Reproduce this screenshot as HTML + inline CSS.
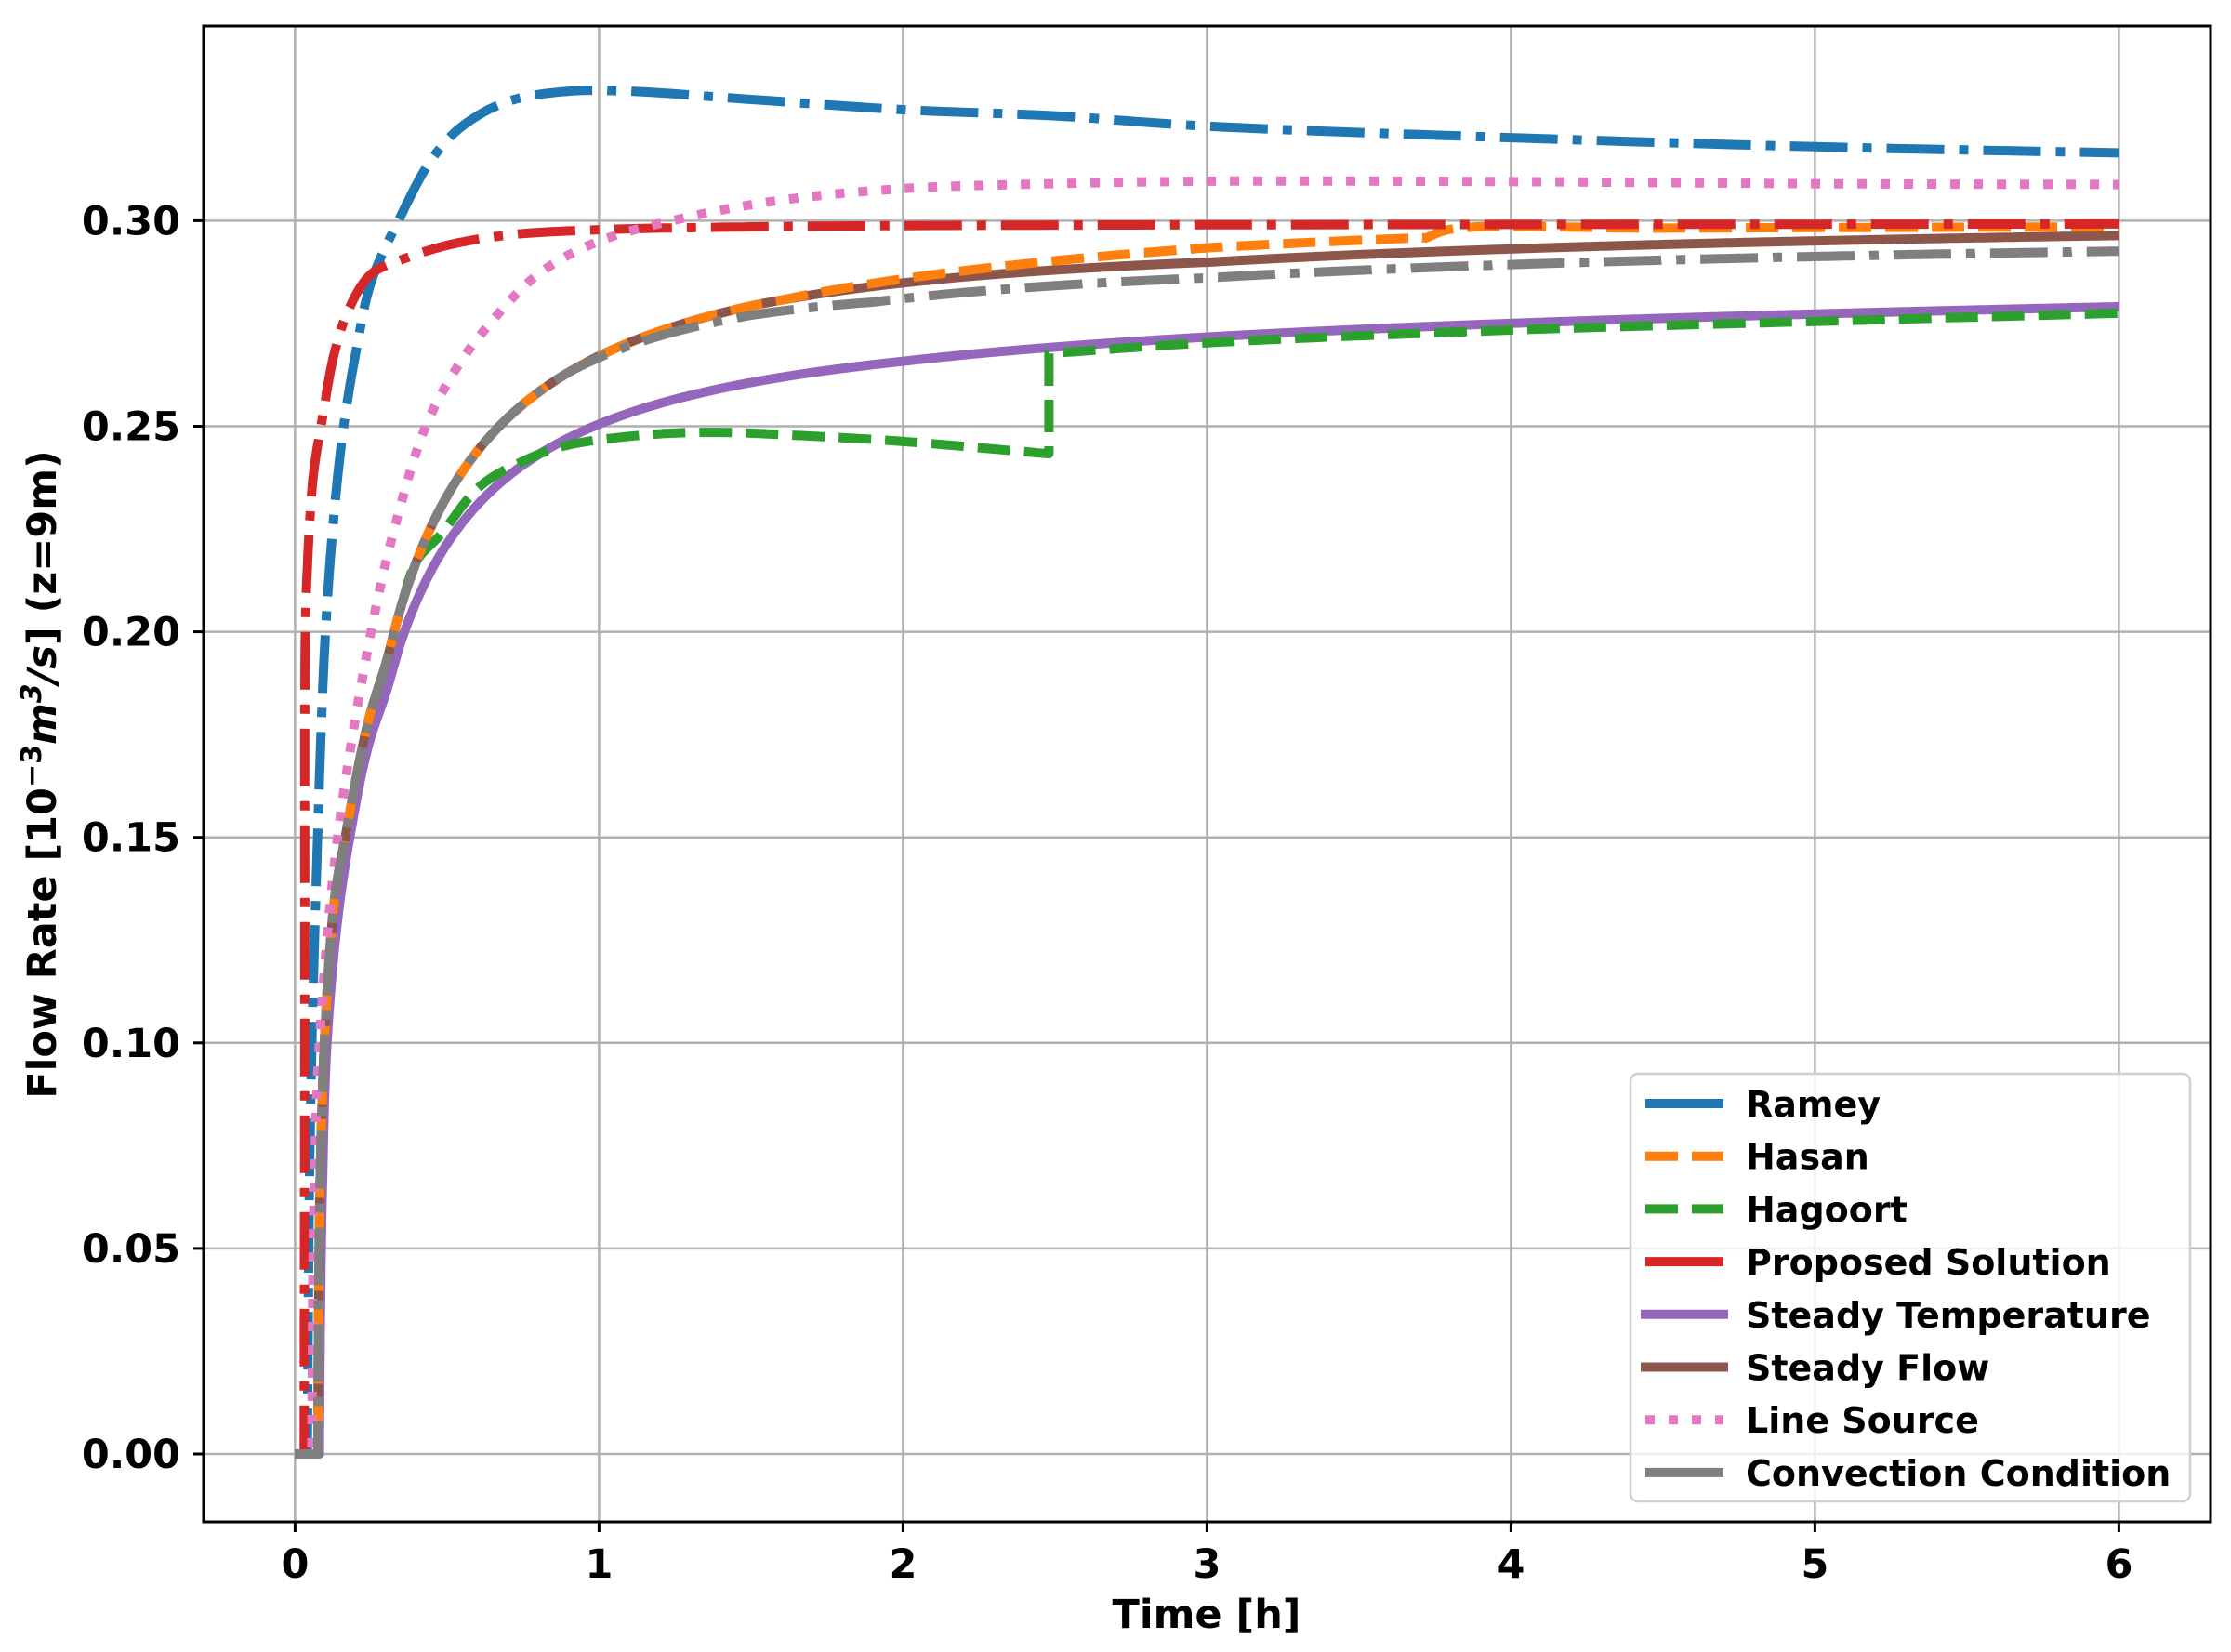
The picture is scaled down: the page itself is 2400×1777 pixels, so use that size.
<!DOCTYPE html>
<html><head><meta charset="utf-8"><style>
html,body{margin:0;padding:0;background:#fff}
svg{display:block}
text{font-family:"DejaVu Sans","Liberation Sans",sans-serif;font-weight:bold;fill:#000}
</style></head><body>
<svg id="s" width="2400" height="1777" viewBox="0 0 2400 1777" xmlns="http://www.w3.org/2000/svg">
<rect width="2400" height="1777" fill="#fff"/>
<g id="grid" stroke="#b0b0b0" stroke-width="2.5"></g>
<g id="curves" fill="none" stroke-width="10"></g>
<rect x="219" y="28" width="2159" height="1609" fill="none" stroke="#000" stroke-width="3"/>
<g id="ticks" stroke="#000" stroke-width="3"></g>
<g id="labels" font-size="43"></g>
<text x="1298" y="1751" font-size="43" text-anchor="middle">Time [h]</text>
<text transform="translate(60,833) rotate(-90)" font-size="43" text-anchor="middle">Flow Rate [10<tspan dy="-16" font-size="30">−3</tspan><tspan dy="16" font-style="italic">m</tspan><tspan dy="-16" font-size="30" font-style="italic">3</tspan><tspan dy="16" font-style="italic">/s</tspan>] (z=9m)</text>
<rect x="1754" y="1155" width="602" height="460" rx="8" fill="#fff" fill-opacity="0.8" stroke="#d0d0d0" stroke-width="2.5"/>
<g id="legend" font-size="38"></g>
</svg>
<script>
var NS="http://www.w3.org/2000/svg";
function X(t){return 317.4+327*t}
function Y(v){return 1564-4422*v}
function el(p,n,a,txt){var e=document.createElementNS(NS,n);for(var k in a)e.setAttribute(k,a[k]);if(txt!=null)e.textContent=txt;document.getElementById(p).appendChild(e);return e}
for(var t=0;t<=6;t++){el('grid','line',{x1:X(t),x2:X(t),y1:28,y2:1637});el('ticks','line',{x1:X(t),x2:X(t),y1:1637,y2:1648});el('labels','text',{x:X(t),y:1697,'text-anchor':'middle'},String(t));}
for(var i=0;i<=6;i++){var v=i*0.05;el('grid','line',{x1:219,x2:2378,y1:Y(v),y2:Y(v)});el('ticks','line',{x1:208,x2:219,y1:Y(v),y2:Y(v)});el('labels','text',{x:194,y:Y(v)+15,'text-anchor':'end'},v.toFixed(2));}
function dist(a,b){var d=Math.hypot(a[0]-b[0],a[1]-b[1]);return Math.max(Math.sqrt(d),1e-3)}
function lerp(a,b,t0,t1,t){var w=(t1-t0)||1e-6;return [(t1-t)/w*a[0]+(t-t0)/w*b[0],(t1-t)/w*a[1]+(t-t0)/w*b[1]]}
function spline(pts){var P=pts.map(function(p){return [X(p[0]),Y(p[1])]});var out=[P[0]];var n=P.length;
 for(var i=0;i<n-1;i++){var p1=P[i],p2=P[i+1];
  var p0=i>0?P[i-1]:[2*p1[0]-p2[0],2*p1[1]-p2[1]];
  var p3=i+2<n?P[i+2]:[2*p2[0]-p1[0],2*p2[1]-p1[1]];
  var t0=0,t1=t0+dist(p0,p1),t2=t1+dist(p1,p2),t3=t2+dist(p2,p3);
  for(var k=1;k<=16;k++){var t=t1+(t2-t1)*k/16;
   var A1=lerp(p0,p1,t0,t1,t),A2=lerp(p1,p2,t1,t2,t),A3=lerp(p2,p3,t2,t3,t);
   var B1=lerp(A1,A2,t0,t2,t),B2=lerp(A2,A3,t1,t3,t);
   out.push(lerp(B1,B2,t1,t2,t));}}
 return out}
function curve(segs,color,dash){var all=[];segs.forEach(function(s){all=all.concat(spline(s))});
 var d='M'+all.map(function(p){return p[0].toFixed(1)+','+p[1].toFixed(1)}).join(' L');
 var a={d:d,stroke:color,'stroke-linejoin':'round'};if(dash)a['stroke-dasharray']=dash;el('curves','path',a)}
function sample(f,a,b,step){var r=[];for(var t=a;t<=b+1e-9;t+=step)r.push([t,f(t)]);return r}
var DD='62,16,10,16', DA='35,15', DT='10,15';
var C={blue:'#1f77b4',orange:'#ff7f0e',green:'#2ca02c',red:'#d62728',purple:'#9467bd',brown:'#8c564b',pink:'#e377c2',gray:'#7f7f7f'};
function fB(t){var s=t-0.075;var v=0.305*s/(s+0.1313);if(t>1.5)v-=0.002*Math.min(1,(t-1.5)/1.5);return v}
function fP(t){var s=t-0.08;var v=0.2816*s/(s+0.1142);if(t>2)v+=0.0028*Math.min(1,(t-2)/4);return v}
var BRE=[[0.075,0],[0.078,0.04],[0.085,0.075],[0.1,0.105],[0.13,0.135],[0.165,0.15],[0.24,0.178]];
var BR=BRE.concat(sample(fB,0.3,6,0.05));
// Ramey
curve([[[0.0,0],[0.04,0]],[[0.04,0],[0.05,0.08],[0.07,0.14],[0.1,0.2],[0.13,0.23],[0.16,0.25],[0.2,0.268],[0.25,0.285],[0.34,0.30],[0.45,0.315],[0.55,0.323],[0.7,0.329],[0.9,0.3315],[1.1,0.3315],[1.5,0.3295],[2,0.327],[2.5,0.3255],[3,0.323],[4,0.3202],[5,0.318],[6,0.3165]]],C.blue,DD);
// Steady temperature
curve([[[0.0,0],[0.08,0]],[[0.08,0],[0.083,0.03],[0.09,0.065],[0.105,0.1],[0.14,0.13],[0.18,0.15],[0.24,0.172]].concat(sample(fP,0.3,6,0.05))],C.purple,null);
// Hagoort
curve([[[0.0,0],[0.075,0]],BRE.concat(sample(fB,0.3,0.4,0.05)).concat([[0.477,0.2235],[0.61,0.2355],[0.75,0.2415],[0.885,0.2452],[1.17,0.248],[1.4,0.2485],[1.7,0.2476],[2,0.2463],[2.48,0.2433]]),[[2.48,0.2433],[2.48,0.2677]],[[2.48,0.2677],[3,0.2703],[4,0.2734],[5,0.2755],[6,0.2775]]],C.green,DA);
// Steady flow
curve([[[0.0,0],[0.075,0]],BR],C.brown,null);
// Hasan
var HA=BRE.concat(sample(function(t){return fB(t)+(t>1.6?0.0035*Math.min(1,(t-1.6)/1.4):0)},0.3,3.7,0.05));
curve([[[0.0,0],[0.075,0]],HA.concat([[3.72,0.2958]]),[[3.72,0.2958],[3.8,0.2979],[4.5,0.2982],[6,0.2985]]],C.orange,DA);
// Proposed
curve([[[0.0,0],[0.03,0]],[[0.03,0],[0.032,0.1],[0.034,0.2],[0.04,0.215],[0.06,0.238],[0.09,0.252],[0.13,0.268],[0.18,0.279],[0.25,0.287],[0.35,0.2905],[0.5,0.294],[0.7,0.2965],[1,0.2978],[1.5,0.2985],[2,0.2988],[3,0.299],[6,0.2992]]],C.red,DD);
// Line source
curve([[[0.0,0],[0.055,0]],[[0.055,0],[0.062,0.06],[0.08,0.1],[0.14,0.15],[0.25,0.2],[0.33,0.226],[0.43,0.25],[0.53,0.264],[0.63,0.274],[0.8,0.287],[1,0.295],[1.3,0.301],[1.6,0.305],[2,0.3078],[2.5,0.309],[3,0.3096],[4,0.3095],[5,0.309],[6,0.3088]]],C.pink,DT);
// Convection
var CV=BR.map(function(p){return p[0]>0.9?[p[0],p[1]-0.0038*Math.min(1,(p[0]-0.9)/1.0)]:p});
curve([[[0.0,0],[0.078,0]],CV],C.gray,DD);
var L=[['Ramey',C.blue,null],['Hasan',C.orange,DA],['Hagoort',C.green,DA],['Proposed Solution',C.red,null],['Steady Temperature',C.purple,null],['Steady Flow',C.brown,null],['Line Source',C.pink,DT],['Convection Condition',C.gray,null]];
L.forEach(function(r,i){var y=1187+i*56.7;var a={x1:1770,x2:1854,y1:y,y2:y,stroke:r[1],'stroke-width':10};if(r[2])a['stroke-dasharray']=r[2];
 if(r[0]=='Steady Temperature'||r[0]=='Steady Flow'){a.x1=1765;a.x2=1859;}
 el('legend','line',a);el('legend','text',{x:1878,y:y+14},r[0]);});
</script>
</body></html>
